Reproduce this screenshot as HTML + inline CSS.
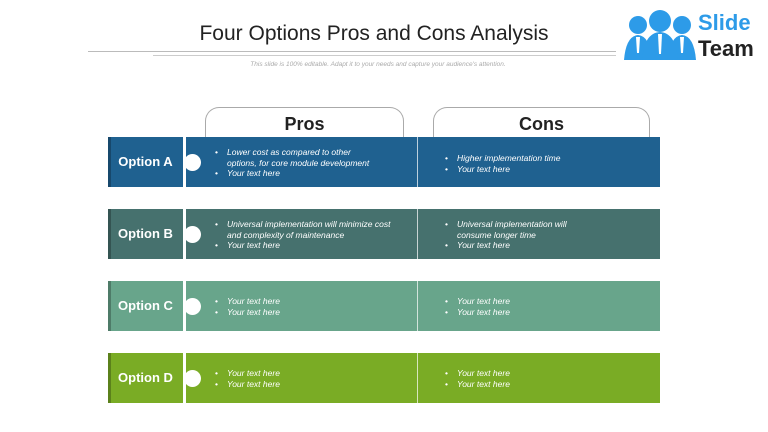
<!DOCTYPE html>
<html><head><style>
body{margin:0;width:768px;height:432px;background:#fff;position:relative;overflow:hidden;font-family:"Liberation Sans",sans-serif}
.a{position:absolute}
.title{left:0;width:768px;top:22px;text-align:center;font-size:21px;color:#222;left:-10px}
.sub{left:0;width:768px;top:61px;text-align:center;font-size:6.5px;color:#aaa;font-style:italic;left:-6px}
.tab{border:1px solid #aaa;border-bottom:none;border-radius:14px 14px 0 0;height:30px;top:107px;text-align:center;font-weight:bold;font-size:18px;line-height:32px;color:#222;background:#fff}
.lbl{left:108px;width:75px;height:50px;color:#fff;font-weight:bold;font-size:13px;line-height:50px;text-align:center;box-shadow:inset 3px 0 0 rgba(0,0,0,.25)}
.cnt{left:186px;width:474px;height:50px}
.div{left:417px;width:1px;height:50px;background:rgba(255,255,255,.7)}
.dot{left:184px;width:17px;height:17px;border-radius:50%;background:#fff}
ul{position:absolute;margin:0;padding:0 0 0 12px;color:#fff;font-style:italic;font-size:8.5px;line-height:10.5px;width:185px}
li{list-style:none;position:relative}
li:before{content:"•";position:absolute;left:-12px;font-style:normal}
</style></head><body>
<div class="a title">Four Options Pros and Cons Analysis</div>
<div class="a" style="left:88px;top:51px;width:528px;height:1px;background:#bbb"></div>
<div class="a" style="left:153px;top:55px;width:463px;height:1px;background:#ccc"></div>
<div class="a sub">This slide is 100% editable. Adapt it to your needs and capture your audience's attention.</div>
<svg class="a" style="left:624px;top:10px" width="72" height="52" viewBox="0 0 72 52">
<g fill="#2d9be8"><circle cx="14" cy="15" r="9"/><circle cx="58" cy="15" r="9"/><path d="M0 50 Q2 26 14 25 Q26 26 28 50Z"/><path d="M44 50 Q46 26 58 25 Q70 26 72 50Z"/><circle cx="36" cy="11" r="11"/><path d="M18 50 Q20 23 36 22 Q52 23 54 50Z"/></g>
<g fill="#fff"><path d="M34 24h4l-1 20h-2z"/><path d="M12 27h4l-1 16h-2z"/><path d="M56 27h4l-1 16h-2z"/></g></svg>
<div class="a" style="left:698px;top:10px;font-size:22px;font-weight:bold;color:#2d9be8">Slide</div>
<div class="a" style="left:698px;top:36px;font-size:22px;font-weight:bold;color:#222">Team</div>
<div class="a tab" style="left:205px;width:197px">Pros</div>
<div class="a tab" style="left:433px;width:215px">Cons</div>

<div class="a lbl" style="top:137px;background:#1f6190">Option A</div>
<div class="a cnt" style="top:137px;background:#1f6190"></div>
<div class="a div" style="top:137px"></div><div class="a dot" style="top:154px"></div>
<ul style="left:215px;top:147px;width:160px"><li>Lower cost as compared to other<br>options, for core module development</li><li>Your text here</li></ul>
<ul style="left:445px;top:153px"><li>Higher implementation time</li><li>Your text here</li></ul>

<div class="a lbl" style="top:209px;background:#46716e">Option B</div>
<div class="a cnt" style="top:209px;background:#46716e"></div>
<div class="a div" style="top:209px"></div><div class="a dot" style="top:226px"></div>
<ul style="left:215px;top:219px;width:178px"><li>Universal implementation will minimize cost and complexity of maintenance</li><li>Your text here</li></ul>
<ul style="left:445px;top:219px;width:125px"><li>Universal implementation will consume longer time</li><li>Your text here</li></ul>

<div class="a lbl" style="top:281px;background:#68a58b">Option C</div>
<div class="a cnt" style="top:281px;background:#68a58b"></div>
<div class="a div" style="top:281px"></div><div class="a dot" style="top:298px"></div>
<ul style="left:215px;top:296px"><li>Your text here</li><li>Your text here</li></ul>
<ul style="left:445px;top:296px"><li>Your text here</li><li>Your text here</li></ul>

<div class="a lbl" style="top:353px;background:#7aac25">Option D</div>
<div class="a cnt" style="top:353px;background:#7aac25"></div>
<div class="a div" style="top:353px"></div><div class="a dot" style="top:370px"></div>
<ul style="left:215px;top:368px"><li>Your text here</li><li>Your text here</li></ul>
<ul style="left:445px;top:368px"><li>Your text here</li><li>Your text here</li></ul>
</body></html>
